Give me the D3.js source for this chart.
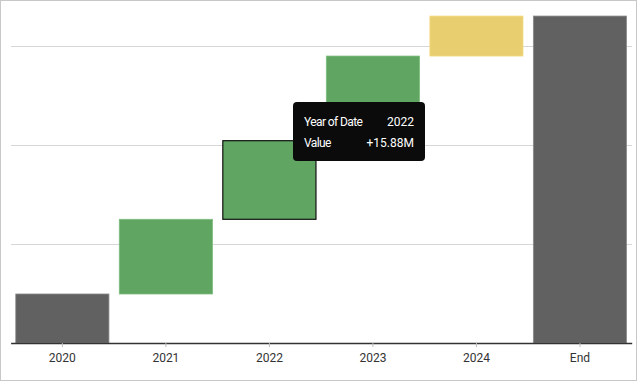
<!DOCTYPE html>
<html>
<head>
<meta charset="utf-8">
<script src="https://cdn.jsdelivr.net/npm/d3@7"></script>
<style>
  html, body { margin: 0; padding: 0; background: #fff; }
  svg { display: block; font-family: Roboto, "Noto Sans", sans-serif; }
</style>
</head>
<body>
<svg id="chart" width="639" height="382"></svg>
<script>
const categories = ["2020", "2021", "2022", "2023", "2024", "End"];
const deltas = [9.9, 15.09, 15.88, 17.1, 8.08];
const kinds = ["start", "up", "up", "up", "partial", "total"];
const yTicks = [20, 40, 60];
const tooltipRows = [["Year of Date", "2022"], ["Value", "+15.88M"]];
const highlighted = "2022";

const colors = { start: "#616161", up: "#60a562", partial: "#e9ce70", total: "#616161" };
const strokes = { start: "#8a8a8a", up: "#7cbc7d", partial: "#f3dc8a", total: "#8a8a8a" };

// build waterfall table
let run = 0;
const rows = categories.map((c, i) => {
  if (kinds[i] === "total") return { cat: c, y0: 0, y1: run, kind: kinds[i] };
  const r = { cat: c, y0: run, y1: run + deltas[i], kind: kinds[i] };
  run += deltas[i];
  return r;
});

const svg = d3.select("#chart");
const x = d3.scaleBand().domain(categories).range([10.6, 631.7]).paddingInner(0.1).paddingOuter(0.05);
const y = d3.scaleLinear().domain([0, 60]).range([343, 46]);

// outer border
svg.append("rect").attr("x", 0.5).attr("y", 0.5).attr("width", 636).attr("height", 380)
  .attr("fill", "none").attr("stroke", "#c8c8c8");

// gridlines
svg.append("g").selectAll("line").data(yTicks).join("line")
  .attr("x1", 11).attr("x2", 632)
  .attr("y1", d => Math.round(y(d)) + 0.5).attr("y2", d => Math.round(y(d)) + 0.5)
  .attr("stroke", "#d6d6d6").attr("stroke-width", 1);

// bars
svg.append("g").selectAll("rect").data(rows).join("rect")
  .attr("x", d => x(d.cat))
  .attr("width", x.bandwidth())
  .attr("y", d => y(Math.max(d.y0, d.y1)))
  .attr("height", d => Math.abs(y(d.y0) - y(d.y1)))
  .attr("fill", d => colors[d.kind])
  .attr("stroke", d => d.cat === highlighted ? "#111" : strokes[d.kind])
  .attr("stroke-width", d => d.cat === highlighted ? 1.2 : 0.8);

// x axis
const xAxis = svg.append("g").attr("transform", "translate(0,343)")
  .call(d3.axisBottom(x).tickSize(4).tickSizeOuter(0));
xAxis.attr("font-family", "Roboto, 'Noto Sans', sans-serif");
xAxis.select(".domain").attr("stroke", "#333").attr("stroke-width", 1.3);
xAxis.selectAll(".tick line").attr("stroke", "#bbb");
xAxis.selectAll(".tick text").attr("fill", "#333").attr("font-size", 12).attr("dy", "1em");

// tooltip
const tt = svg.append("g").attr("transform", "translate(293,102)");
tt.append("rect").attr("width", 132).attr("height", 59).attr("rx", 4).attr("fill", "#0b0b0b");
tooltipRows.forEach((r, i) => {
  tt.append("text").attr("x", 11).attr("y", 24 + i * 21).attr("fill", "#fff")
    .attr("font-size", 12).attr("letter-spacing", -0.6).text(r[0]);
  tt.append("text").attr("x", 121).attr("y", 24 + i * 21).attr("fill", "#fff")
    .attr("font-size", 12).attr("text-anchor", "end").text(r[1]);
});
</script>
</body>
</html>
